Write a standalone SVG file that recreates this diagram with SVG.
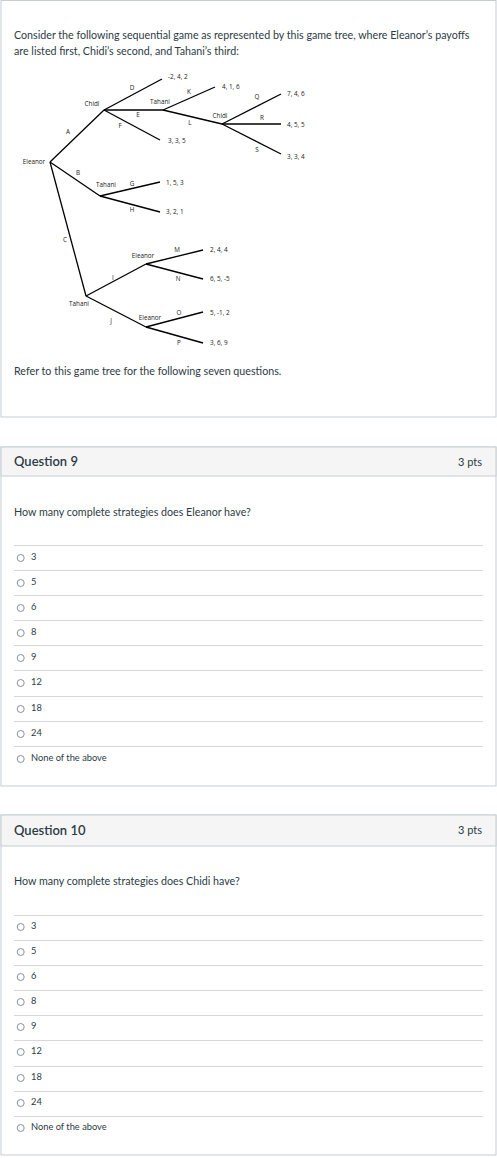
<svg xmlns="http://www.w3.org/2000/svg" width="497" height="1158" viewBox="0 0 497 1158">
<style>
.box{fill:#fff;stroke:#c7cdd1;stroke-width:1}
.hdr{fill:#f5f5f5;stroke:#c7cdd1;stroke-width:1}
.t{font-family:Lato,"Open Sans",sans-serif;fill:#2d3b45}
.body{font-size:10.7px}
.qt{font-size:13px;font-weight:600}
.pts{font-size:11px}
.opt{font-size:9.3px}
.sep{stroke:#d6d9db;stroke-width:1}
.rad{fill:#fff;stroke:#6b7780;stroke-width:0.8}
.e{stroke:#000;stroke-width:1.3;fill:none}
.n{font-family:"Open Sans","Noto Sans",sans-serif;font-size:6.3px;fill:#222}
.p{font-family:"Open Sans","Noto Sans",sans-serif;font-size:6.4px;fill:#222}
</style>
<rect x="0" y="0" width="497" height="1158" fill="#fff"/>
<rect class="box" x="1" y="0.5" width="495" height="416.5"/>
<text class="t body" x="14" y="39">Consider the following sequential game as represented by this game tree, where Eleanor’s payoffs</text>
<text class="t body" x="14" y="55">are listed first, Chidi’s second, and Tahani’s third:</text>
<g id="connectors">
<path class="e" d="M50,162 L104,110"/>
<path class="e" d="M104,110 L162,79"/>
<path class="e" d="M104,110 L163,110"/>
<path class="e" d="M104,110 L160,140"/>
<path class="e" d="M163,110 L215,87"/>
<path class="e" d="M163,110 L222,124"/>
<path class="e" d="M222,124 L281,94"/>
<path class="e" d="M222,124 L281,124"/>
<path class="e" d="M222,124 L281,154"/>
<path class="e" d="M50,162 L100,196"/>
<path class="e" d="M100,196 L160,182"/>
<path class="e" d="M100,196 L160,212"/>
<path class="e" d="M50,162 L86,296"/>
<path class="e" d="M86,296 L146,264"/>
<path class="e" d="M146,264 L203,250"/>
<path class="e" d="M146,264 L203,279"/>
<path class="e" d="M86,296 L146,327"/>
<path class="e" d="M146,327 L203,312"/>
<path class="e" d="M146,327 L203,343"/>
</g>
<g id="edge-labels">
<text class="n" x="68" y="134" text-anchor="middle">A</text>
<text class="n" x="78" y="175" text-anchor="middle">B</text>
<text class="n" x="65" y="242" text-anchor="middle">C</text>
<text class="n" x="132" y="90" text-anchor="middle">D</text>
<text class="n" x="138" y="117" text-anchor="middle">E</text>
<text class="n" x="120" y="128" text-anchor="middle">F</text>
<text class="n" x="189" y="94" text-anchor="middle">K</text>
<text class="n" x="190" y="125" text-anchor="middle">L</text>
<text class="n" x="257" y="99" text-anchor="middle">Q</text>
<text class="n" x="262" y="120" text-anchor="middle">R</text>
<text class="n" x="257" y="152" text-anchor="middle">S</text>
<text class="n" x="132" y="186" text-anchor="middle">G</text>
<text class="n" x="132" y="212" text-anchor="middle">H</text>
<text class="n" x="113" y="280" text-anchor="middle">I</text>
<text class="n" x="111" y="323" text-anchor="middle">J</text>
<text class="n" x="177" y="252" text-anchor="middle">M</text>
<text class="n" x="178" y="281" text-anchor="middle">N</text>
<text class="n" x="179" y="315" text-anchor="middle">O</text>
<text class="n" x="179" y="345" text-anchor="middle">P</text>
</g>
<g id="node-eleanor-root"><text class="n" x="34" y="164" text-anchor="middle">Eleanor</text></g>
<g id="node-chidi-1"><text class="n" x="92" y="106" text-anchor="middle">Chidi</text></g>
<g id="node-tahani-1"><text class="n" x="160" y="104" text-anchor="middle">Tahani</text></g>
<g id="node-chidi-2"><text class="n" x="220" y="118" text-anchor="middle">Chidi</text></g>
<g id="node-tahani-2"><text class="n" x="106" y="187" text-anchor="middle">Tahani</text></g>
<g id="node-tahani-3"><text class="n" x="79" y="306" text-anchor="middle">Tahani</text></g>
<g id="node-eleanor-2"><text class="n" x="143" y="258" text-anchor="middle">Eleanor</text></g>
<g id="node-eleanor-3"><text class="n" x="150" y="320" text-anchor="middle">Eleanor</text></g>
<g id="payoffs">
<text class="p" x="168" y="79">-2, 4, 2</text>
<text class="p" x="222" y="89">4, 1, 6</text>
<text class="p" x="168" y="143">3, 3, 5</text>
<text class="p" x="287" y="96">7, 4, 6</text>
<text class="p" x="287" y="127">4, 5, 5</text>
<text class="p" x="287" y="159">3, 3, 4</text>
<text class="p" x="166" y="185">1, 5, 3</text>
<text class="p" x="166" y="214">3, 2, 1</text>
<text class="p" x="210" y="252">2, 4, 4</text>
<text class="p" x="210" y="281">6, 5, -5</text>
<text class="p" x="210" y="315">5, -1, 2</text>
<text class="p" x="210" y="345">3, 6, 9</text>
</g>
<text class="t body" x="14" y="375">Refer to this game tree for the following seven questions.</text>

<g id="q9">
<rect class="box" x="1" y="447" width="495" height="339"/>
<rect class="hdr" x="1" y="447" width="495" height="29"/>
<text class="t qt" x="14" y="466">Question 9</text>
<text class="t pts" x="482" y="466" text-anchor="end">3 pts</text>
<text class="t body" x="14" y="516">How many complete strategies does Eleanor have?</text>
<line class="sep" x1="14" y1="545.5" x2="483" y2="545.5"/>
<line class="sep" x1="14" y1="570.5" x2="483" y2="570.5"/>
<line class="sep" x1="14" y1="595.5" x2="483" y2="595.5"/>
<line class="sep" x1="14" y1="620.5" x2="483" y2="620.5"/>
<line class="sep" x1="14" y1="645.5" x2="483" y2="645.5"/>
<line class="sep" x1="14" y1="670.5" x2="483" y2="670.5"/>
<line class="sep" x1="14" y1="696.5" x2="483" y2="696.5"/>
<line class="sep" x1="14" y1="721.5" x2="483" y2="721.5"/>
<line class="sep" x1="14" y1="746.5" x2="483" y2="746.5"/>
<circle class="rad" cx="20.7" cy="558" r="3.5"/><text class="t opt" x="31" y="560">3</text>
<circle class="rad" cx="20.7" cy="583" r="3.5"/><text class="t opt" x="31" y="585">5</text>
<circle class="rad" cx="20.7" cy="608" r="3.5"/><text class="t opt" x="31" y="610">6</text>
<circle class="rad" cx="20.7" cy="633" r="3.5"/><text class="t opt" x="31" y="635">8</text>
<circle class="rad" cx="20.7" cy="658" r="3.5"/><text class="t opt" x="31" y="660">9</text>
<circle class="rad" cx="20.7" cy="683" r="3.5"/><text class="t opt" x="31" y="685">12</text>
<circle class="rad" cx="20.7" cy="709" r="3.5"/><text class="t opt" x="31" y="711">18</text>
<circle class="rad" cx="20.7" cy="734" r="3.5"/><text class="t opt" x="31" y="736">24</text>
<circle class="rad" cx="20.7" cy="759" r="3.5"/><text class="t opt" x="31" y="761">None of the above</text>
</g>

<g id="q10">
<rect class="box" x="1" y="815" width="495" height="340"/>
<rect class="hdr" x="1" y="815" width="495" height="31"/>
<text class="t qt" x="14" y="835">Question 10</text>
<text class="t pts" x="482" y="834" text-anchor="end">3 pts</text>
<text class="t body" x="14" y="885">How many complete strategies does Chidi have?</text>
<line class="sep" x1="14" y1="915.5" x2="483" y2="915.5"/>
<line class="sep" x1="14" y1="940.5" x2="483" y2="940.5"/>
<line class="sep" x1="14" y1="965.5" x2="483" y2="965.5"/>
<line class="sep" x1="14" y1="990.5" x2="483" y2="990.5"/>
<line class="sep" x1="14" y1="1015.5" x2="483" y2="1015.5"/>
<line class="sep" x1="14" y1="1040.5" x2="483" y2="1040.5"/>
<line class="sep" x1="14" y1="1066.5" x2="483" y2="1066.5"/>
<line class="sep" x1="14" y1="1091.5" x2="483" y2="1091.5"/>
<line class="sep" x1="14" y1="1116.5" x2="483" y2="1116.5"/>
<circle class="rad" cx="20.7" cy="927" r="3.5"/><text class="t opt" x="31" y="929">3</text>
<circle class="rad" cx="20.7" cy="952" r="3.5"/><text class="t opt" x="31" y="954">5</text>
<circle class="rad" cx="20.7" cy="977" r="3.5"/><text class="t opt" x="31" y="979">6</text>
<circle class="rad" cx="20.7" cy="1002" r="3.5"/><text class="t opt" x="31" y="1004">8</text>
<circle class="rad" cx="20.7" cy="1027" r="3.5"/><text class="t opt" x="31" y="1029">9</text>
<circle class="rad" cx="20.7" cy="1052" r="3.5"/><text class="t opt" x="31" y="1054">12</text>
<circle class="rad" cx="20.7" cy="1078" r="3.5"/><text class="t opt" x="31" y="1080">18</text>
<circle class="rad" cx="20.7" cy="1103" r="3.5"/><text class="t opt" x="31" y="1105">24</text>
<circle class="rad" cx="20.7" cy="1128" r="3.5"/><text class="t opt" x="31" y="1130">None of the above</text>
</g>
</svg>
